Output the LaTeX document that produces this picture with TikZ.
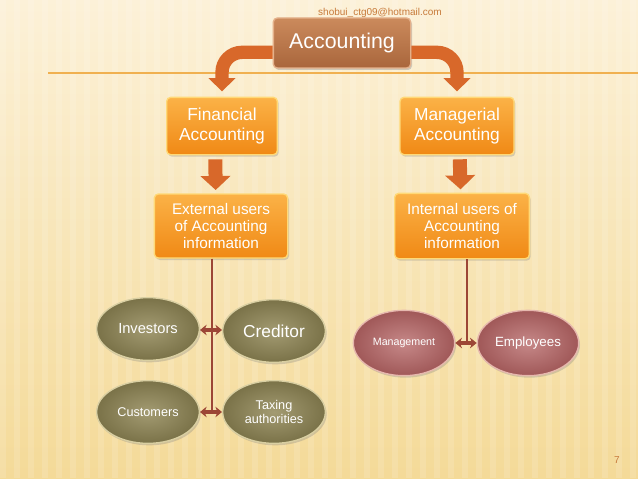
\documentclass[tikz,border=0pt]{standalone}
\usepackage{fontspec}
\setmainfont{Liberation Sans}
\usetikzlibrary{arrows.meta,shapes.geometric,shadows}
\definecolor{bgtop}{HTML}{FCF1D8}
\definecolor{bgbot}{HTML}{F4DA98}
\definecolor{acctop}{HTML}{CB8A5C}
\definecolor{accbot}{HTML}{A9663C}
\definecolor{accbord}{HTML}{E4B08A}
\definecolor{ortop}{HTML}{FBB247}
\definecolor{orbot}{HTML}{F08915}
\definecolor{orbord}{HTML}{FFD977}
\definecolor{arrorange}{HTML}{D8682A}
\definecolor{olivein}{HTML}{A39B72}
\definecolor{oliveout}{HTML}{7A7248}
\definecolor{olivebord}{HTML}{D9CFA2}
\definecolor{pinkin}{HTML}{C68888}
\definecolor{pinkout}{HTML}{A05858}
\definecolor{pinkbord}{HTML}{E6B8AE}
\definecolor{linered}{HTML}{9C4636}
\definecolor{mailcol}{HTML}{C77A3A}
\definecolor{rulecol}{HTML}{F0B050}
\tikzset{
  accbox/.style={rectangle, rounded corners=3pt, draw=accbord, line width=1pt,
    top color=acctop, bottom color=accbot, text=white, align=center,
    minimum width=103pt, minimum height=37.5pt,
    drop shadow={opacity=0.35, shadow xshift=1pt, shadow yshift=-1.5pt},
    font=\fontsize{16}{18}\selectfont},
  orbox/.style={rectangle, rounded corners=3pt, draw=orbord, line width=1pt,
    top color=ortop, bottom color=orbot, text=white, align=center,
    inner sep=1pt,
    drop shadow={opacity=0.3, shadow xshift=1pt, shadow yshift=-1.5pt}},
  oliveell/.style={ellipse, draw=olivebord, line width=1pt, inner sep=0pt,
    inner color=olivein, outer color=oliveout, text=white, align=center,
    minimum width=77pt, minimum height=47pt,
    drop shadow={opacity=0.3, shadow xshift=1pt, shadow yshift=-1.5pt}},
  pinkell/.style={ellipse, draw=pinkbord, line width=1pt, inner sep=0pt,
    inner color=pinkin, outer color=pinkout, text=white, align=center,
    minimum width=76pt, minimum height=49pt,
    drop shadow={opacity=0.3, shadow xshift=1pt, shadow yshift=-1.5pt}},
  curvarrow/.style={draw=arrorange, line width=10pt, rounded corners=15pt,
    -{Triangle[width=20pt,length=10pt]}, shorten >=4pt},
  blockarrow/.style={draw=arrorange, line width=10.5pt,
    -{Triangle[width=22pt,length=10.5pt]}, shorten >=2.5pt, shorten <=3pt},
  vline/.style={draw=linered, line width=1.5pt},
  dblarrow/.style={draw=linered, line width=3pt,
    {Stealth[length=5pt,width=8pt]}-{Stealth[length=5pt,width=8pt]}}
}
\begin{document}
\begin{tikzpicture}[x=0.75pt,y=-0.75pt]
% background
\useasboundingbox (0,0) rectangle (638,478);
\shade[top color=bgtop, bottom color=bgbot] (0,0) rectangle (638,478);
\foreach \i in {0,14,...,630} {
  \fill[white, opacity=0.13] (\i,0) rectangle (\i+6,478);
}
\draw[rulecol, line width=0.9pt] (48,73) -- (638,73);
% email and page number
\node[text=mailcol, font=\fontsize{7.5}{9}\selectfont] (mail) at (380,13) {shobui\_ctg09@hotmail.com};
\node[text=mailcol, font=\fontsize{7.5}{9}\selectfont] (pgnum) at (617,460) {7};
% boxes
\node[accbox] (acc) at (342,43) {Accounting};
\node[orbox, minimum width=83pt, minimum height=43pt, font=\fontsize{13}{15}\selectfont] (fin) at (222,126) {Financial\\Accounting};
\node[orbox, minimum width=85.5pt, minimum height=43pt, font=\fontsize{13}{15}\selectfont] (man) at (457,126) {Managerial\\Accounting};
\node[orbox, minimum width=100pt, minimum height=48pt, font=\fontsize{11.5}{13}\selectfont] (ext) at (221,226) {External users\\of Accounting\\information};
\node[orbox, minimum width=101pt, minimum height=49pt, font=\fontsize{11.5}{13}\selectfont] (int) at (462,226) {Internal users of\\Accounting\\information};
% curved arrows
\draw[curvarrow] ([yshift=-7pt]acc.west) -| (fin.north);
\draw[curvarrow] ([yshift=-7pt]acc.east) -| (man.north);
% block arrows
\draw[blockarrow] ([xshift=-5pt]fin.south) -- ([xshift=-4pt]ext.north);
\draw[blockarrow] ([xshift=2pt]man.south) -- ([xshift=-1pt]int.north);
% ellipses
\node[oliveell, font=\fontsize{11}{13}\selectfont] (inv) at (148,329) {Investors};
\node[oliveell, font=\fontsize{13}{15}\selectfont] (cred) at (274,331) {Creditor};
\node[oliveell, font=\fontsize{9.5}{11}\selectfont] (cust) at (148,412) {Customers};
\node[oliveell, font=\fontsize{9.5}{11}\selectfont] (tax) at (274,412) {Taxing\\authorities};
\node[pinkell, font=\fontsize{8}{10}\selectfont] (mgmt) at (404,343) {Management};
\node[pinkell, font=\fontsize{10}{12}\selectfont] (emp) at (528,343) {Employees};
% vertical lines
\coordinate (extend) at (212,413);
\coordinate (intend) at (467,343);
\draw[vline] (ext.south -| extend) -- (extend);
\draw[vline] (int.south -| intend) -- (intend);
% double arrows
\draw[dblarrow] (inv.east |- 0,330) -- (cred.west |- 0,330);
\draw[dblarrow] (cust.east) -- (tax.west);
\draw[dblarrow] (mgmt.east) -- (emp.west);
\end{tikzpicture}
\end{document}
